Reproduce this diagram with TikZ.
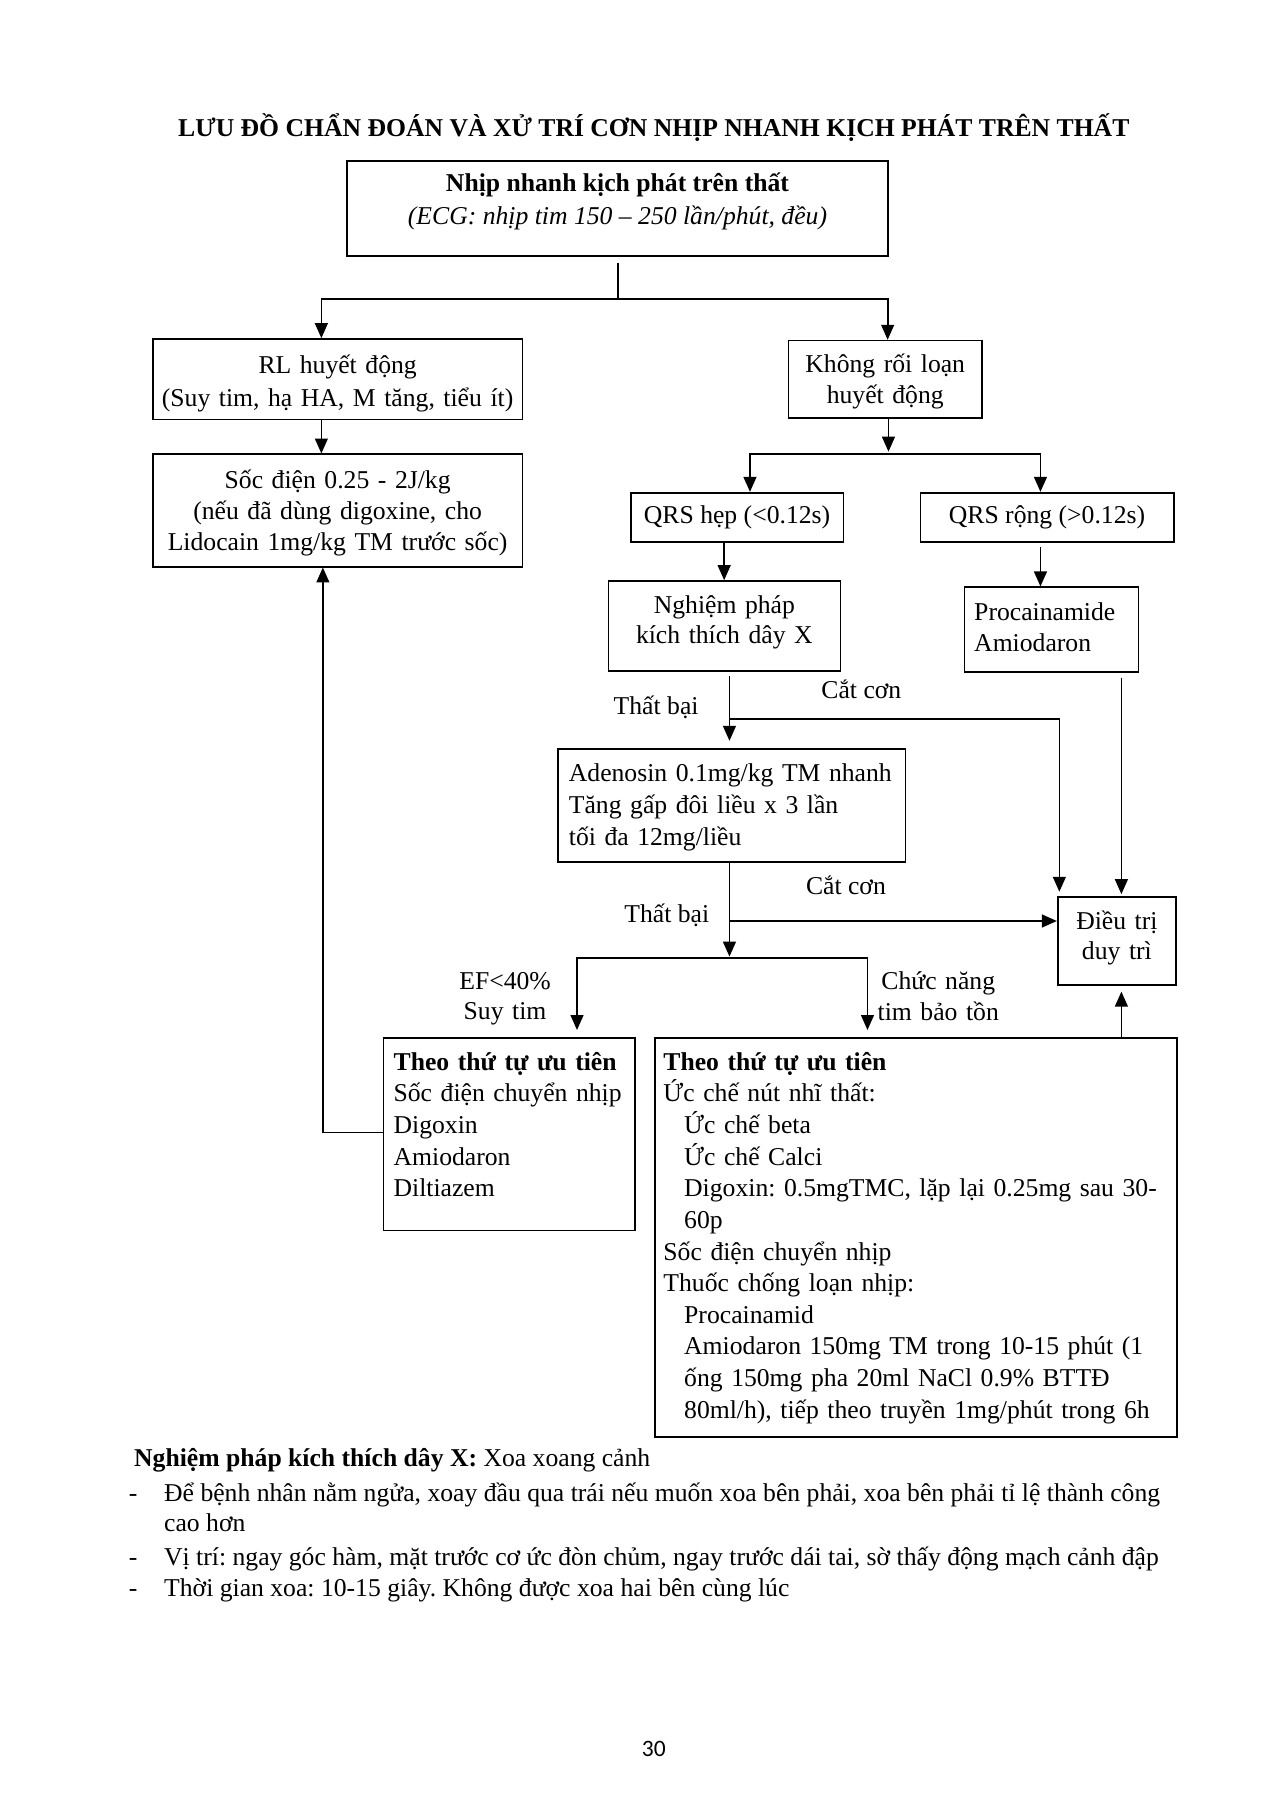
\documentclass[tikz,border=0pt]{standalone}
\usepackage{fontspec}
\setmainfont{Liberation Serif}
\newfontfamily\pgnumfont{Carlito}
\usetikzlibrary{arrows.meta,fit,calc}
\frenchspacing
\begin{document}
\begin{tikzpicture}[x=0.5392pt,y=-0.5392pt,
  box/.style={draw, line width=0.8pt, inner sep=0pt},
  t/.style={inner sep=0pt, anchor=base, font=\fontsize{12}{14.8}\selectfont},
  tl/.style={t, anchor=base west},
  ml/.style={t, anchor=base west, text width=#1, align=left},
  mc/.style={t, anchor=base, text width=#1, align=center},
  ln/.style={line width=0.8pt},
  arr/.style={line width=0.8pt, -{Triangle[length=7pt,width=6pt]}}]
\useasboundingbox (0,0) rectangle (1104,1561);
\fill[white] (0,0) rectangle (1104,1561);

% title
\node[t, font=\bfseries\fontsize{12}{14}\selectfont] (title) at (567,118)
  {LƯU ĐỒ CHẨN ĐOÁN VÀ XỬ TRÍ CƠN NHỊP NHANH KỊCH PHÁT TRÊN THẤT};

% boxes
\node[box, fit={(300.8,139.6) (770,221.7)}] (b1) {};
\node[box, fit={(132.6,294) (453,363.7)}] (rl) {};
\node[box, fit={(132.6,394) (453,491.4)}] (soc) {};
\node[box, fit={(683.8,295.4) (851.6,362.2)}] (kh) {};
\node[box, fit={(547,427.3) (731.5,469.8)}] (hep) {};
\node[box, fit={(798.2,427.3) (1018,469.8)}] (rong) {};
\node[box, fit={(527.7,503.9) (728.8,581.6)}] (ng) {};
\node[box, fit={(836.5,509.3) (987.3,582.5)}] (proc) {};
\node[box, fit={(484,649.8) (785.2,747.8)}] (ad) {};
\node[box, fit={(917.3,777.6) (1020,854.2)}] (dt) {};
\node[box, fit={(332.6,900) (550.7,1067)}] (lb) {};
\node[box, fit={(568,900) (1021,1246)}] (bb) {};

% texts in boxes
\node[t, font=\bfseries\fontsize{12}{14}\selectfont] (b1a) at (535.5,166) {Nhịp nhanh kịch phát trên thất};
\node[t, font=\itshape\fontsize{12}{14}\selectfont] (b1b) at (535.5,195) {(ECG: nhịp tim 150 – 250 lần/phút, đều)};
\node[mc=200pt, font=\fontsize{12}{15.7}\selectfont] (rlt) at (292.8,323.8) {RL huyết động\\(Suy tim, hạ HA, M tăng, tiểu ít)};
\node[mc=200pt, font=\fontsize{12}{14.6}\selectfont] (soct) at (292.8,423.5) {Sốc điện 0.25 - 2J/kg\\(nếu đã dùng digoxine, cho\\Lidocain 1mg/kg TM trước sốc)};
\node[mc=100pt, font=\fontsize{12}{14.3}\selectfont] (kht) at (767.7,323.2) {Không rối loạn\\huyết động};
\node[t] (hept) at (639.2,454.4) {QRS hẹp (<0.12s)};
\node[t] (rongt) at (908,454.4) {QRS rộng (>0.12s)};
\node[mc=110pt, font=\fontsize{12}{14.3}\selectfont] (ngt) at (628.2,531.9) {Nghiệm pháp\\kích thích dây X};
\node[ml=80pt] (proct) at (844.5,537.7) {Procainamide\\Amiodaron};
\node[ml=160pt] (adt) at (493,677.9) {Adenosin 0.1mg/kg TM nhanh\\Tăng gấp đôi liều x 3 lần\\tối đa 12mg/liều};
\node[mc=60pt, font=\fontsize{12}{14}\selectfont] (dtt) at (968.6,806) {Điều trị\\duy trì};
\node[ml=115pt] (lbt) at (341,928) {\textbf{Theo thứ tự ưu tiên}\\Sốc điện chuyển nhịp\\Digoxin\\Amiodaron\\Diltiazem};
\node[ml=240pt] (bbt) at (575,928) {\textbf{Theo thứ tự ưu tiên}\\
Ức chế nút nhĩ thất:\\
\hspace*{9.7pt}Ức chế beta\\
\hspace*{9.7pt}Ức chế Calci\\
\hspace*{9.7pt}Digoxin: 0.5mgTMC, lặp lại 0.25mg sau 30-\\
\hspace*{9.7pt}60p\\
Sốc điện chuyển nhịp\\
Thuốc chống loạn nhịp:\\
\hspace*{9.7pt}Procainamid\\
\hspace*{9.7pt}Amiodaron 150mg TM trong 10-15 phút (1\\
\hspace*{9.7pt}ống 150mg pha 20ml NaCl 0.9\% BTTĐ\\
\hspace*{9.7pt}80ml/h), tiếp theo truyền 1mg/phút trong 6h};

% edge labels
\node[t] (tb1) at (569,620) {Thất bại};
\node[t] (cc1) at (747,606) {Cắt cơn};
\node[t] (tb2) at (578.3,800) {Thất bại};
\node[t] (cc2) at (733.6,776) {Cắt cơn};
\node[mc=60pt, font=\fontsize{12}{14.3}\selectfont] (ef) at (438,858) {EF<40\%\\Suy tim};
\node[mc=80pt, font=\fontsize{12}{14.3}\selectfont] (cn) at (813.7,858.4) {Chức năng\\tim bảo tồn};

% helper coordinates
\coordinate (j1) at (535.7,259.5);
\coordinate (xl) at (278.7,0);
\coordinate (xr) at (769.8,0);
\coordinate (j2) at (770.5,394);
\coordinate (x3) at (650.4,0);
\coordinate (x4) at (902.3,0);
\coordinate (x5) at (628,0);
\coordinate (x6) at (632.6,0);
\coordinate (j3) at (632.6,623.5);
\coordinate (x7) at (918.7,0);
\coordinate (x8) at (972.5,0);
\coordinate (j4) at (632.6,831);
\coordinate (j5) at (632.6,798.7);
\coordinate (x9) at (500.4,0);
\coordinate (x10) at (752.3,0);
\coordinate (x11) at (280,0);
\coordinate (y1) at (0,982);

% connectors
\draw[ln] ($(b1.south -| j1)+(0,5.8)$) -- (j1);
\draw[arr] (j1) -| (rl.north -| xl);
\draw[arr] (j1) -| (kh.north -| xr);
\draw[arr] (rl.south -| xl) -- (soc.north -| xl);
\draw[arr] (kh.south -| j2) -- ($(j2)+(0,-2.3)$);
\draw[arr] (j2) -| (hep.north -| x3);
\draw[arr] (j2) -| (rong.north -| x4);
\draw[arr] (hep.south -| x5) -- (ng.north -| x5);
\draw[arr] ($(rong.south -| x4)+(0,4.2)$) -- (proc.north -| x4);
\draw[arr] ($(ng.south -| x6)+(0,3.8)$) -- ($(ad.north -| x6)+(0,-6.6)$);
\draw[arr] (j3) -| ($(dt.north -| x7)+(0,-3.5)$);
\draw[arr] ($(proc.south -| x8)+(0,4.3)$) -- ($(dt.north -| x8)+(0,-1.4)$);
\draw[arr] (ad.south -| j4) -- ($(j4)+(0,-1.4)$);
\draw[arr] (j5) -- (dt.west |- j5);
\draw[arr] (j4) -| ($(lb.north -| x9)+(0,-6)$);
\draw[arr] (j4) -| ($(bb.north -| x10)+(0,-6)$);
\draw[arr] (bb.north -| x8) -- ($(dt.south -| x8)+(0,5)$);
\draw[arr] (lb.west |- y1) -| (soc.south -| x11);

% notes below
\node[tl] (n0) at (116,1271.4) {\textbf{Nghiệm pháp kích thích dây X:} Xoa xoang cảnh};
\node[tl] (d1) at (111.5,1302.3) {-};
\node[tl] (p1) at (142,1302.3) {Để bệnh nhân nằm ngửa, xoay đầu qua trái nếu muốn xoa bên phải, xoa bên phải tỉ lệ thành công};
\node[tl] (p1b) at (142,1328.3) {cao hơn};
\node[tl] (d2) at (111.5,1357.2) {-};
\node[tl] (p2) at (142,1357.2) {Vị trí: ngay góc hàm, mặt trước cơ ức đòn chủm, ngay trước dái tai, sờ thấy động mạch cảnh đập};
\node[tl] (d3) at (111.5,1384.7) {-};
\node[tl] (p3) at (142,1384.7) {Thời gian xoa: 10-15 giây. Không được xoa hai bên cùng lúc};

% page number
\node[t, font=\pgnumfont\fontsize{11}{13}\selectfont] (pg) at (567,1523.5) {30};
\end{tikzpicture}
\end{document}
